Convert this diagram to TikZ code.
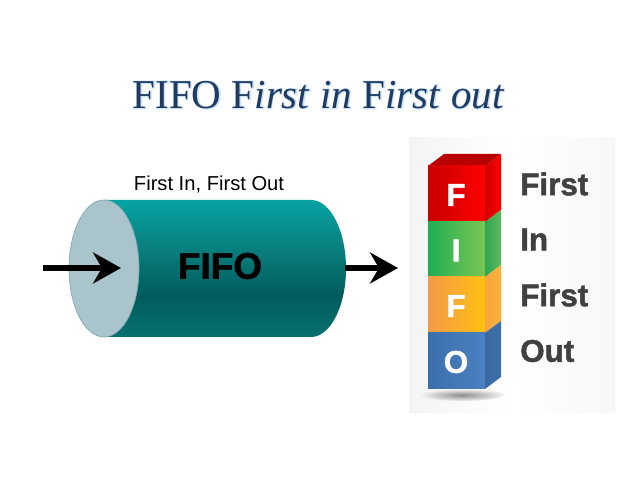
\documentclass[tikz,border=0pt]{standalone}
\usepackage{fontspec}
\setmainfont{Liberation Sans}
\newfontfamily\titlefont{Liberation Serif}
\newfontfamily\titleglow[FakeBold=4]{Liberation Serif}
\newfontfamily\heavyfont[FakeBold=1.5]{Liberation Sans Bold}
\usetikzlibrary{arrows.meta,positioning}
\definecolor{titleblue}{HTML}{1F3B63}
\definecolor{glowblue}{HTML}{C9E2F5}
\definecolor{faceteal}{HTML}{A9C5CB}
\definecolor{edgeteal}{HTML}{7FAAB0}
\definecolor{labelgray}{HTML}{404040}
\definecolor{panelgray}{HTML}{F4F4F4}
\definecolor{shadowgray}{HTML}{8C8C8C}
\definecolor{tealA}{HTML}{06A3A3}
\definecolor{tealB}{HTML}{0A8080}
\definecolor{tealC}{HTML}{08706F}
\definecolor{tealD}{HTML}{005C5C}
\pgfdeclareverticalshading{tealtube}{100bp}{
  color(0bp)=(tealC); color(25bp)=(tealC); color(40bp)=(tealD); color(58bp)=(tealB); color(75bp)=(tealA); color(100bp)=(tealA)}
\tikzset{
  flowarrow/.style={line width=0.2cm,-{Stealth[length=0.84cm,width=0.93cm,inset=0.27cm]}},
  blockletter/.style={text=white,font=\heavyfont\fontsize{26.8}{30}\selectfont,inner sep=0pt},
  sidelabel/.style={text=labelgray,font=\heavyfont\fontsize{26.8}{30}\selectfont,anchor=west,inner sep=0pt},
}
\begin{document}
\begin{tikzpicture}[x=0.03cm,y=0.03cm]
\useasboundingbox (0,0) rectangle (638,478);
\fill[white] (0,0) rectangle (638,478);

% Drawing title
\node[text=glowblue,font=\titleglow\fontsize{35}{40}\selectfont,inner sep=0pt] (titleback) at (318.5,383) {FIFO F\textit{irst} \textit{in} F\textit{irst} \textit{out}};
\node[text=titleblue,font=\titlefont\fontsize{35}{40}\selectfont,inner sep=0pt] (title) at (318.5,383) {FIFO F\textit{irst} \textit{in} F\textit{irst} \textit{out}};

% Drawing cylinder
\shade[shading=tealtube] (104,278) -- (311,278) arc (90:-90:35 and 68.5) -- (104,141) -- cycle;
\draw[edgeteal,line width=0.02cm,fill=faceteal] (104,209.5) ellipse (35 and 68.5);
\node[font=\fontsize{17.2}{20}\selectfont,inner sep=0pt] (caption) at (209,294) {First In, First Out};
\node[font=\heavyfont\fontsize{31.5}{34}\selectfont,inner sep=0pt] (fifolabel) at (220,212) {FIFO};

% Drawing arrows
\coordinate (inStart) at (43,210);
\coordinate (inEnd) at (121,210);
\coordinate (outStart) at (345,210);
\coordinate (outEnd) at (398,210);
\draw[flowarrow] (inStart) -- (inEnd);
\draw[flowarrow] (outStart) -- (outEnd);

% Drawing panel
\shade[left color=panelgray,right color=panelgray!70!white,middle color=white] (409,65) rectangle (615,340);
\shade[inner color=shadowgray,outer color=panelgray] (462,83) ellipse (42 and 6);

% Drawing top of stack
\fill[red!72!black] (428,312) -- (444,324) -- (501,324) -- (485,312) -- cycle;

% Drawing blocks
\foreach \yt/\yb/\frontA/\frontB/\sideA/\sideB/\ch/\word/\n in {
  312/256/C80000/FF0000/D00000/FF0000/F/First/a,
  256/201/1FAE54/7CC653/2FA64F/5DBB5F/I/In/b,
  201/145/F59A48/FFC010/F7A43F/FDB237/F/First/c,
  145/89/3C6EAC/4B81C1/3A68A2/3F70AC/O/Out/d}{
  \definecolor{fa}{HTML}{\frontA}\definecolor{fb}{HTML}{\frontB}
  \definecolor{sa}{HTML}{\sideA}\definecolor{sb}{HTML}{\sideB}
  \shade[left color=fa,right color=fb] (428,\yt) rectangle (485,\yb);
  \shade[left color=sa,right color=sb] (485,\yt) -- (501,\yt+12) -- (501,\yb+12) -- (485,\yb) -- cycle;
  \node[blockletter] (block\n) at (456,{(\yt+\yb)/2-1}) {\ch};
  \node[sidelabel] (word\n) at (520,{(\yt+\yb)/2+10}) {\word};
}
\end{tikzpicture}
\end{document}
